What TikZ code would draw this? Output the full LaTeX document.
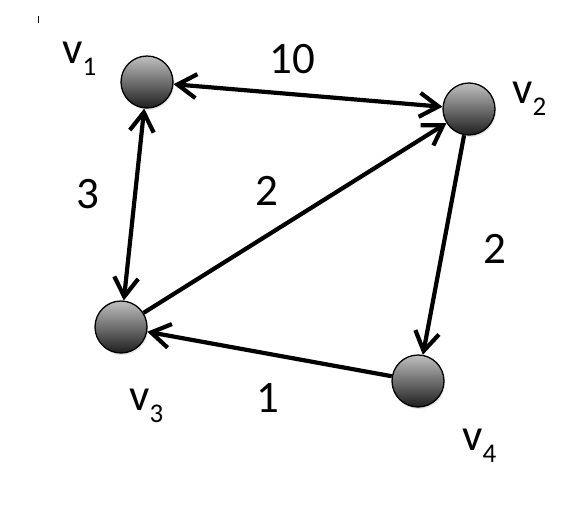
\documentclass[tikz,border=0pt]{standalone}
\usepackage{fontspec}
\setmainfont{Carlito}
\usetikzlibrary{arrows.meta,shadows}
\newcommand{\vname}[1]{v\raisebox{-12pt}{\fontsize{27}{27}\selectfont #1}}
\begin{document}
\begin{tikzpicture}[
  x=1pt, y=-1pt,
  vert/.style={circle, draw=black, line width=1.3pt, minimum size=52pt, inner sep=0pt,
    top color=black!25, bottom color=black!88,
    drop shadow={shadow xshift=1pt, shadow yshift=-2pt, opacity=0.2}},
  lab/.style={inner sep=0pt, anchor=base west, font=\fontsize{45}{54}\selectfont},
  wt/.style={inner sep=0pt, anchor=base, font=\fontsize{45}{54}\selectfont},
  arr/.style={-{Straight Barb[length=19pt, width=24pt]}, line width=4.2pt},
  both/.style={{Straight Barb[length=19pt, width=24pt]}-{Straight Barb[length=19pt, width=24pt]}, line width=4.2pt}]
\useasboundingbox (0,0) rectangle (578,504);
\draw[line width=0.7pt] (38,16) -- (38,23);
\node[vert] (v1) at (147,82) {};
\node[vert] (v2) at (469,109) {};
\node[vert] (v3) at (121,327) {};
\node[vert] (v4) at (418,381) {};
\node[lab] (l1) at (62,63) {\vname{1}};
\node[lab] (l2) at (512,103) {\vname{2}};
\node[lab] (l3) at (129,410) {\vname{3}};
\node[lab] (l4) at (462,450) {\vname{4}};
\node[wt] (w12) at (292,73) {10};
\node[wt] (w13) at (88,208) {3};
\node[wt] (w32) at (267,205) {2};
\node[wt] (w24) at (495,263) {2};
\node[wt] (w43) at (268,412) {1};
\foreach \a/\b in {v1/v2,v1/v3} \draw[both] (\a) -- (\b);
\foreach \a/\b in {v3/v2,v2/v4,v4/v3} \draw[arr] (\a) -- (\b);
\end{tikzpicture}
\end{document}
